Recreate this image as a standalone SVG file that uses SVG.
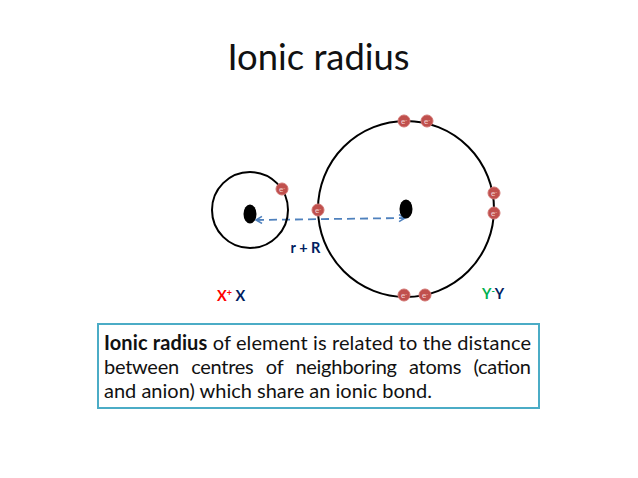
<svg xmlns="http://www.w3.org/2000/svg" width="638" height="478" viewBox="0 0 638 478">
<style>
text{font-family:Lato,"Liberation Sans",sans-serif}
.orbit{fill:none;stroke:#000;stroke-width:2}
.nuc{fill:#000}
.el{fill:#c0504d;stroke:#d27572;stroke-width:1}
.elt{fill:#f2d6d5;font-size:8px;text-anchor:middle}
.lab{font-size:14.5px;font-weight:700;fill:#002060}
.body{font-size:20px;fill:#111}
</style>
<defs>
<marker id="open" markerWidth="10" markerHeight="10" refX="7" refY="4" orient="auto-start-reverse" markerUnits="userSpaceOnUse"><path d="M1 0.5L7 4L1 7.5" fill="none" stroke="#4f81bd" stroke-width="1.6"/></marker>
<g id="e"><circle class="el" r="6"/><text class="elt" y="2.5">e<tspan font-size="5" dy="-2">-</tspan></text></g>
</defs>
<rect width="638" height="478" fill="#fff"/>
<text id="title" x="318.500" y="69.500" font-size="36.400" text-anchor="middle" fill="#111">Ionic radius</text>
<g id="connectors"><line x1="256" y1="220" x2="405" y2="218" stroke="#4f81bd" stroke-width="1.8" stroke-dasharray="8 5" marker-start="url(#open)" marker-end="url(#open)"/></g>
<g id="atom-x"><circle class="orbit" cx="250" cy="210" r="38"/><ellipse class="nuc" cx="250" cy="214" rx="6.500" ry="9.500"/></g>
<g id="atom-y"><circle class="orbit" cx="406" cy="209" r="88"/><ellipse class="nuc" cx="406" cy="209" rx="6.500" ry="9.500"/></g>
<g id="electrons">
<use href="#e" x="282" y="189"/>
<use href="#e" x="318" y="210"/>
<use href="#e" x="404" y="121"/>
<use href="#e" x="427" y="121"/>
<use href="#e" x="494" y="193"/>
<use href="#e" x="494" y="213"/>
<use href="#e" x="404" y="295"/>
<use href="#e" x="425" y="295"/>
</g>
<text id="rr" class="lab" x="290.500" y="252.500">r + R</text>
<text id="lx" class="lab" x="217" y="301"><tspan fill="#ff0000">X<tspan font-size="9" dy="-5">+</tspan></tspan><tspan dy="5"> X</tspan></text>
<text id="ly" class="lab" x="482" y="298.500"><tspan fill="#00b050">Y<tspan font-size="9" dy="-5">-</tspan></tspan><tspan dy="5">Y</tspan></text>
<g id="note">
<rect x="98" y="324" width="441" height="84" fill="#fff" stroke="#4bacc6" stroke-width="2"/>
<text class="body" x="104" y="349.500" textLength="427" lengthAdjust="spacing"><tspan font-weight="700">Ionic radius</tspan> of element is related to the distance</text>
<text class="body" x="104" y="373.500" textLength="427" word-spacing="7.500">between centres of neighboring atoms (cation</text>
<text class="body" x="104" y="398">and anion) which share an ionic bond.</text>
</g>
</svg>
